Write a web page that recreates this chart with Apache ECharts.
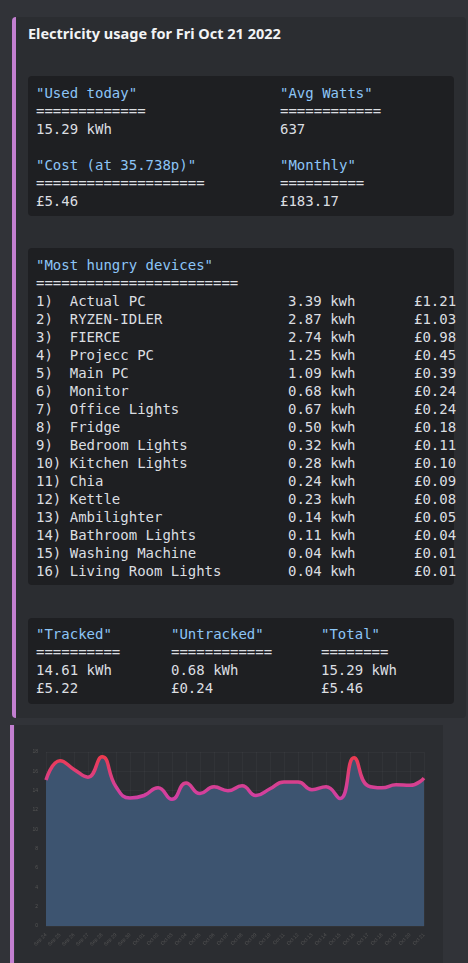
<!DOCTYPE html>
<html>
<head>
<meta charset="utf-8">
<script src="https://cdn.jsdelivr.net/npm/echarts@6/dist/echarts.min.js"></script>
<style>
    body { margin:0; width:468px; height:963px; background:#313338; position:relative; overflow:hidden; }
    .embed { position:absolute; left:12px; top:17px; width:450px; height:701px; background:#2b2d31; border-left:4px solid #c27fd0; border-radius:4px; }
    .title { position:absolute; left:28px; top:23px; color:#f2f3f5; font:bold 14.5px "Noto Sans", sans-serif; }
    .code { position:absolute; left:28px; width:426px; background:#1e1f22; border-radius:4px; }
    pre { position:absolute; margin:0; font:14px/18px "DejaVu Sans Mono", monospace; color:#dbdee1; }
    .q { color:#8cc5f7; }
    .embed2 { position:absolute; left:10px; top:725px; width:4px; height:238px; background:#c27fd0; }
    #chart { position:absolute; left:15px; top:725px; width:428px; height:238px; background:#2b2d31; }
</style>
</head>
<body>
<div class="embed"></div>
<div class="title">Electricity usage for Fri Oct 21 2022</div>

<div class="code" style="top:76px;height:140px">
    <pre style="left:8px;top:8px"><span class="q">"Used today"</span>
=============
15.29 kWh

<span class="q">"Cost (at 35.738p)"</span>
====================
£5.46</pre>
    <pre style="left:252px;top:8px"><span class="q">"Avg Watts"</span>
============
637

<span class="q">"Monthly"</span>
==========
£183.17</pre>
</div>

<div class="code" style="top:248px;height:337px">
    <pre id="devNames" style="left:8px;top:8px"></pre>
    <pre id="devKwh" style="left:260px;top:8px"></pre>
    <pre id="devCost" style="left:386px;top:8px"></pre>
</div>

<div class="code" style="top:618px;height:86px">
    <pre style="left:8px;top:7px"><span class="q">"Tracked"</span>
==========
14.61 kWh
£5.22</pre>
    <pre style="left:143px;top:7px"><span class="q">"Untracked"</span>
============
0.68 kWh
£0.24</pre>
    <pre style="left:293px;top:7px"><span class="q">"Total"</span>
========
15.29 kWh
£5.46</pre>
</div>

<div class="embed2"></div>
<div id="chart"></div>

<script>
    // 设备用电
    var deviceNames = ['Actual PC','RYZEN-IDLER','FIERCE','Projecc PC','Main PC','Monitor','Office Lights','Fridge',
        'Bedroom Lights','Kitchen Lights','Chia','Kettle','Ambilighter','Bathroom Lights','Washing Machine','Living Room Lights'];
    var deviceKwh = ['3.39','2.87','2.74','1.25','1.09','0.68','0.67','0.50','0.32','0.28','0.24','0.23','0.14','0.11','0.04','0.04'];
    var deviceCost = ['£1.21','£1.03','£0.98','£0.45','£0.39','£0.24','£0.24','£0.18','£0.11','£0.10','£0.09','£0.08','£0.05','£0.04','£0.01','£0.01'];

    // 每日用电 (kWh)
    var days = ['Sep 24','Sep 25','Sep 26','Sep 27','Sep 28','Sep 29','Sep 30','Oct 01','Oct 02','Oct 03','Oct 04','Oct 05','Oct 06','Oct 07',
        'Oct 08','Oct 09','Oct 10','Oct 11','Oct 12','Oct 13','Oct 14','Oct 15','Oct 16','Oct 17','Oct 18','Oct 19','Oct 20','Oct 21'];
    var usage = [15.1,17.1,16.2,15.4,17.5,14.4,13.25,13.5,14.3,13.1,14.8,13.7,14.4,14.0,
        14.5,13.5,14.2,14.9,14.9,14.1,14.4,13.2,17.4,14.5,14.3,14.6,14.55,15.3];

    function pad(s, n) { while (s.length < n) s += ' '; return s; }
    var names = ['<span class="q">"Most hungry devices"</span>', '========================'];
    var kwh = ['', ''], cost = ['', ''];
    for (var i = 0; i < deviceNames.length; i++) {
        names.push(pad((i + 1) + ')', 4) + deviceNames[i]);
        kwh.push(deviceKwh[i] + ' kwh');
        cost.push(deviceCost[i]);
    }
    document.getElementById('devNames').innerHTML = names.join('\n');
    document.getElementById('devKwh').textContent = kwh.join('\n');
    document.getElementById('devCost').textContent = cost.join('\n');

    var chart = echarts.init(document.getElementById('chart'));
    chart.setOption({
        animation: false,
        grid: { left: 31, right: 19, top: 27, bottom: 37 },
        xAxis: {
            type: 'category', boundaryGap: false, data: days,
            axisLine: { show: false }, axisTick: { show: false },
            axisLabel: { color: '#555', fontSize: 5, rotate: 45, interval: 0 },
            splitLine: { show: true, lineStyle: { color: 'rgba(255,255,255,0.03)' } }
        },
        yAxis: {
            type: 'value', min: 0, max: 18, interval: 2,
            axisLabel: { color: '#555', fontSize: 5 },
            splitLine: { lineStyle: { color: 'rgba(255,255,255,0.03)' } }
        },
        series: [{
            type: 'line', data: usage, smooth: 0.5, symbol: 'none',
            lineStyle: {
                width: 3.5,
                color: new echarts.graphic.LinearGradient(0, 0, 0, 1, [
                    { offset: 0, color: '#ef3a4a' }, { offset: 0.6, color: '#d6408f' }, { offset: 1, color: '#d03fa8' }
                ])
            },
            areaStyle: { color: '#3d5470', opacity: 1 }
        }]
    });
</script>
</body>
</html>
